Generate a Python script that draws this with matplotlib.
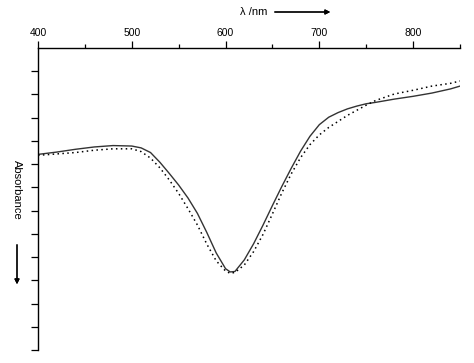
import numpy as np
import matplotlib.pyplot as plt
from matplotlib.ticker import MultipleLocator, FixedLocator

plt.rcParams['font.family'] = ['Liberation Sans', 'DejaVu Sans']

# wavelength grid (nm) and absorbance (arbitrary units)
wavelength = [400, 420, 440, 460, 480, 500, 510, 520, 530, 540, 550, 560, 570, 580,
              590, 600, 605, 610, 620, 630, 640, 650, 660, 670, 680, 690, 700, 710,
              720, 730, 740, 750, 760, 780, 800, 820, 840, 850]
abs_solid = [0.229, 0.224, 0.218, 0.213, 0.210, 0.211, 0.215, 0.225, 0.246, 0.270,
             0.295, 0.323, 0.356, 0.397, 0.441, 0.475, 0.482, 0.481, 0.456, 0.421,
             0.381, 0.339, 0.298, 0.259, 0.222, 0.190, 0.165, 0.149, 0.139, 0.131,
             0.125, 0.120, 0.117, 0.110, 0.104, 0.097, 0.088, 0.082]
abs_dotted = [0.231, 0.228, 0.225, 0.220, 0.217, 0.217, 0.223, 0.237, 0.258, 0.284,
              0.313, 0.346, 0.381, 0.422, 0.458, 0.480, 0.485, 0.483, 0.467, 0.438,
              0.401, 0.357, 0.312, 0.271, 0.236, 0.208, 0.187, 0.171, 0.158, 0.145,
              0.134, 0.123, 0.113, 0.099, 0.091, 0.082, 0.076, 0.071]

x_ticks = [400, 500, 600, 700, 800]

fig = plt.figure(figsize=(4.74, 3.63), dpi=100)
ax = fig.add_axes([38/474, 1-350/363, (460-38)/474, (350-48)/363])

ax.plot(wavelength, abs_solid, color='#333333', lw=1.0)
ax.plot(wavelength, abs_dotted, color='black', lw=1.1, linestyle=(0, (1, 2.2)))

ax.set_xlim(400, 850)
ax.set_ylim(0.65, 0)   # absorbance grows downward here

ax.xaxis.set_ticks_position('top')
ax.xaxis.set_label_position('top')
ax.set_xticks(x_ticks)
ax.xaxis.set_minor_locator(MultipleLocator(50))
ax.yaxis.set_major_locator(FixedLocator(np.arange(0.05, 0.66, 0.1)))
ax.yaxis.set_minor_locator(FixedLocator(np.arange(0.1, 0.61, 0.1)))
ax.set_yticklabels([])

ax.tick_params(axis='x', which='major', direction='out', length=5, width=0.9,
               labelsize=7.5, pad=2)
ax.tick_params(axis='x', which='minor', direction='out', length=3, width=0.9)
ax.tick_params(axis='y', which='both', direction='out', length=5, width=0.9)

for s in ['right', 'bottom']:
    ax.spines[s].set_visible(False)
for s in ['top', 'left']:
    ax.spines[s].set_linewidth(1.0)

# axis titles with arrows
fig.text(267/474, 1-12/363, 'λ /nm', ha='right', va='center', fontsize=8)
fig.add_artist(plt.annotate('', xy=(333/474, 1-12/363), xytext=(272/474, 1-12/363),
                            xycoords='figure fraction',
                            arrowprops=dict(arrowstyle='-|>', color='black', lw=0.9,
                                            mutation_scale=7)))
fig.text(17/474, 1-190/363, 'Absorbance', rotation=270, ha='center', va='center',
         fontsize=8)
fig.add_artist(plt.annotate('', xy=(17/474, 1-287/363), xytext=(17/474, 1-242/363),
                            xycoords='figure fraction',
                            arrowprops=dict(arrowstyle='-|>', color='black', lw=0.9,
                                            mutation_scale=7)))

plt.savefig('out.png', dpi=100)
